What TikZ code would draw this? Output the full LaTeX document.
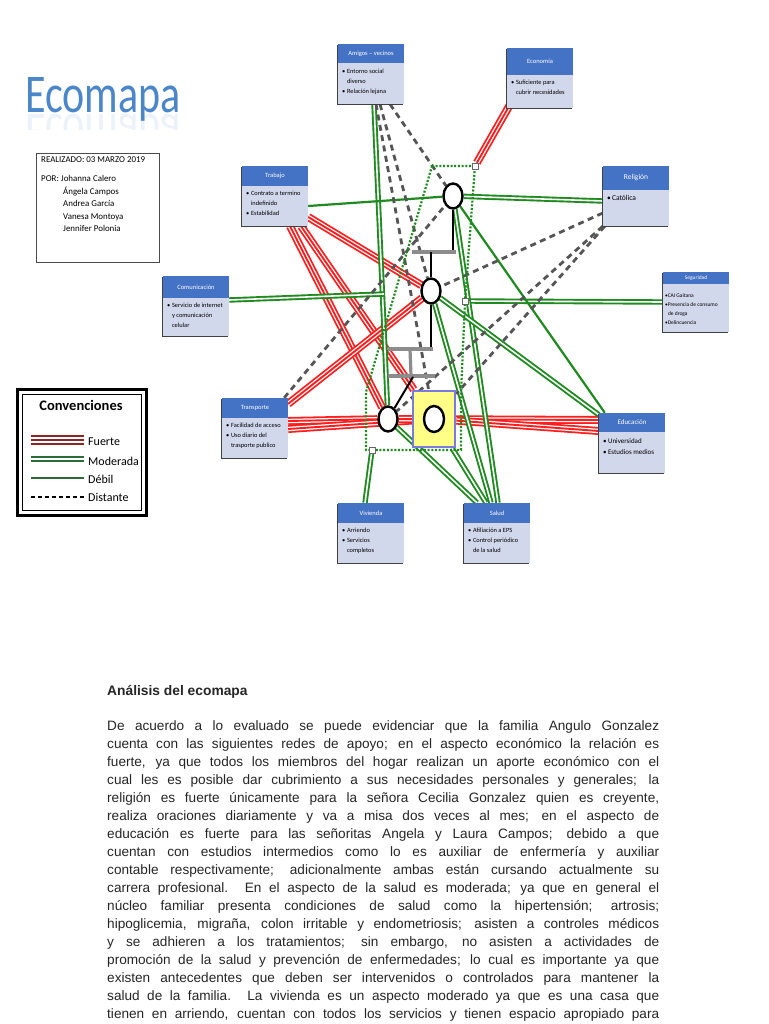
\documentclass[tikz,border=0pt]{standalone}
\usepackage{fontspec}
\setmainfont{Carlito}
\newfontfamily\arialfont{Liberation Sans}
\usetikzlibrary{shapes.geometric,shadows}
\definecolor{boxhead}{HTML}{4472C4}
\definecolor{boxbody}{HTML}{D2D8EC}
\definecolor{tiered}{HTML}{FF1E1E}
\definecolor{tiegreen}{HTML}{1F8A1F}
\definecolor{tiegray}{HTML}{555555}
\definecolor{kingray}{HTML}{8C8C8C}
\definecolor{idxyellow}{HTML}{FFFF88}
\definecolor{idxblue}{HTML}{7B7BDD}
\definecolor{legred}{HTML}{8E2424}
\definecolor{leggreen}{HTML}{2C6B38}
\definecolor{titleblue}{HTML}{4A86C8}
\definecolor{textgray}{HTML}{262626}
\pgfdeclarelayer{bg}
\pgfsetlayers{bg,main}
\newcommand\blt{\makebox[5pt][l]{\textbullet}}
\newcommand\bltc{\hspace*{5pt}}

\begin{document}
\begin{tikzpicture}[x=1pt,y=-1pt,
    ebox/.style={fill=boxbody, minimum width=66pt, minimum height=60pt, inner sep=0pt,
      drop shadow={shadow xshift=-1.3pt, shadow yshift=-1.3pt, fill=black!75, opacity=1}},
    ehead/.style={fill=boxhead, minimum width=66pt, inner sep=0pt, anchor=north,
      text=white, font=\fontsize{6.5}{7}\selectfont},
    ebody/.style={anchor=north west, align=left, inner sep=0pt, font=\fontsize{6.4}{10}\selectfont},
    fam/.style={ellipse, draw, line width=2.4pt, fill=white, minimum width=19pt,
      minimum height=25pt, inner sep=0pt},
    index/.style={draw=idxblue, line width=2.6pt, fill=idxyellow, minimum width=42pt,
      minimum height=56pt, inner sep=0pt},
    sq/.style={draw=black!60, fill=white, line width=0.6pt, minimum size=6pt, inner sep=0pt},
    fuerte/.style={draw=white, line width=4.4pt, preaction={draw=tiered, line width=8pt},
      postaction={draw=tiered, line width=1.9pt}},
    moderada/.style={draw=white, line width=1.6pt, preaction={draw=tiegreen, line width=5.4pt}},
    debil/.style={draw=tiegreen, line width=2.2pt},
    distante/.style={draw=tiegray, line width=2.8pt, dash pattern=on 6pt off 4.5pt},
    kinline/.style={draw=black, line width=2pt},
    kinbar/.style={draw=kingray, line width=3.2pt},
    hogar/.style={draw=tiegreen, line width=2.2pt, dash pattern=on 2pt off 1.7pt},
    legfuerte/.style={draw=white, line width=5.4pt, preaction={draw=legred, line width=10pt},
      postaction={draw=legred, line width=2.2pt}},
    legmod/.style={draw=white, line width=1.5pt, preaction={draw=leggreen, line width=6.5pt}},
    legtext/.style={anchor=west, inner sep=0pt, font=\fontsize{12}{12}\selectfont}]
  \useasboundingbox (0,0) rectangle (768,1024);

  % Title
  \node[anchor=base west, inner sep=0pt, text=titleblue, font=\fontsize{42}{42}\selectfont]
    (title) at (25,113) {\scalebox{1}[1.3]{Ecomapa}};
  \begin{scope}
    \clip (20,115) rectangle (190,130);
    \node[anchor=base west, inner sep=0pt, text=titleblue, opacity=0.1,
      font=\fontsize{42}{42}\selectfont] (titlerefl) at (25,115) {\scalebox{1}[-1.3]{Ecomapa}};
  \end{scope}

  % Authors
  \node[draw=black!70, line width=0.6pt, minimum width=123pt, minimum height=109pt,
    anchor=north west, inner sep=0pt] (info) at (36,153) {};
  \node[anchor=north west, align=left, inner sep=0pt, font=\fontsize{8.9}{12.4}\selectfont]
    (infotxt) at (41,157) {REALIZADO: 03 MARZO 2019\\[6.5pt]
      POR: Johanna Calero\\\hspace*{22pt}Ángela Campos\\\hspace*{22pt}Andrea García\\
      \hspace*{22pt}Vanesa Montoya\\\hspace*{22pt}Jennifer Polonia};

  % Legend
  \node[draw, line width=3pt, minimum width=129pt, minimum height=126pt, anchor=north west,
    inner sep=0pt] (legend) at (16,388) {};
  \node[draw, line width=0.8pt, minimum width=119pt, minimum height=116pt, inner sep=0pt]
    (legendin) at (legend.center) {};
  \node[font=\bfseries\fontsize{14.5}{15}\selectfont, inner sep=0pt] (legendH) at (81,405) {Convenciones};
  \draw[legfuerte] (31,440) -- (84,440);
  \draw[legmod] (31,459) -- (84,459);
  \draw[draw=leggreen, line width=2.5pt] (31,478) -- (84,478);
  \draw[draw=black, line width=2pt, dash pattern=on 4pt off 3pt] (31,497) -- (84,497);
  \node[legtext] (legF) at (88,442) {Fuerte};
  \node[legtext] (legM) at (88,461) {Moderada};
  \node[legtext] (legD) at (88,479) {Débil};
  \node[legtext] (legX) at (88,497) {Distante};

  % Systems
  \node[ebox] (amigos) at (371,74) {};
  \node[ehead, minimum height=19pt] (amigosH) at (amigos.north) {Amigos – vecinos};
  \node[ebody] (amigosT) at ([xshift=4pt,yshift=-6pt]amigosH.south west)
    {\blt Entorno social\\\bltc diverso\\\blt Relación lejana};

  \node[ebox] (econ) at (540,78) {};
  \node[ehead, minimum height=27pt] (econH) at (econ.north) {Economía};
  \node[ebody] (econT) at ([xshift=4pt,yshift=-5pt]econH.south west)
    {\blt Suficiente para\\\bltc cubrir necesidades};

  \node[ebox] (trabajo) at (275,196) {};
  \node[ehead, minimum height=20pt] (trabajoH) at (trabajo.north) {Trabajo};
  \node[ebody] (trabajoT) at ([xshift=4pt,yshift=-5pt]trabajoH.south west)
    {\blt Contrato a termino\\\bltc indefinido\\\blt Estabilidad};

  \node[ebox] (religion) at (636,196) {};
  \node[ehead, minimum height=24pt, font=\fontsize{7.5}{8}\selectfont] (religionH)
    at (religion.north) {Religión};
  \node[ebody, font=\fontsize{7.5}{10}\selectfont] (religionT)
    at ([xshift=4pt,yshift=-5pt]religionH.south west) {\blt Católica};

  \node[ebox] (comun) at (196,306) {};
  \node[ehead, minimum height=22pt] (comunH) at (comun.north) {Comunicación};
  \node[ebody] (comunT) at ([xshift=4pt,yshift=-5pt]comunH.south west)
    {\blt Servicio de internet\\\bltc y comunicación\\\bltc celular};

  \node[ebox] (segur) at (696,302) {};
  \node[ehead, minimum height=12pt, font=\fontsize{5.5}{6}\selectfont] (segurH)
    at (segur.north) {Seguridad};
  \node[ebody, font=\fontsize{5.5}{9}\selectfont] (segurT)
    at ([xshift=2pt,yshift=-9pt]segurH.south west)
    {•CAI Gaitana\\•Presencia de consumo\\\hspace*{3pt}de droga\\•Delincuencia};

  \node[ebox] (transp) at (255,428) {};
  \node[ehead, minimum height=20pt] (transpH) at (transp.north) {Transporte};
  \node[ebody] (transpT) at ([xshift=4pt,yshift=-5pt]transpH.south west)
    {\blt Facilidad de acceso\\\blt Uso diario del\\\bltc trasporte publico};

  \node[ebox] (educ) at (632,443) {};
  \node[ehead, minimum height=19pt, font=\fontsize{7}{8}\selectfont] (educH)
    at (educ.north) {Educación};
  \node[ebody, font=\fontsize{7}{11.5}\selectfont] (educT)
    at ([xshift=4pt,yshift=-6pt]educH.south west) {\blt Universidad\\\blt Estudios medios};

  \node[ebox] (vivienda) at (371,533) {};
  \node[ehead, minimum height=20pt] (viviendaH) at (vivienda.north) {Vivienda};
  \node[ebody] (viviendaT) at ([xshift=4pt,yshift=-5pt]viviendaH.south west)
    {\blt Arriendo\\\blt Servicios\\\bltc completos};

  \node[ebox] (salud) at (497,533) {};
  \node[ehead, minimum height=20pt] (saludH) at (salud.north) {Salud};
  \node[ebody] (saludT) at ([xshift=4pt,yshift=-5pt]saludH.south west)
    {\blt Afiliación a EPS\\\blt Control periódico\\\bltc de la salud};

  % Family
  \node[fam] (famA) at (453,196) {};
  \node[fam] (famB) at (431,291) {};
  \node[fam] (famC) at (388,419) {};
  \node[index] (index) at (434,419) {};
  \node[fam, minimum width=20pt, minimum height=26pt] (famD) at (434,419) {};

  % Household
  \node[sq] (sqEcon) at (475,166) {};
  \node[sq] (sqSeg) at (465,301) {};
  \node[sq] (sqViv) at (372,450) {};
  \coordinate (comEnd) at (384,294);
  \coordinate (sibA) at (434,252);
  \coordinate (sibB) at (410,349);
  \coordinate (sibC) at (411,376);

  \begin{pgfonlayer}{bg}
    \fill[white] (0,0) rectangle (768,1024);

    % Strong ties
    \draw[fuerte] (sqEcon) -- ([xshift=4pt,yshift=5pt]econ.south west);
    \draw[fuerte] ([yshift=-21pt]trabajo.east) -- (famB);
    \draw[fuerte] ([xshift=15pt]trabajo.south) -- (famC);
    \draw[fuerte] ([xshift=26pt]trabajo.south) -- (index);
    \draw[fuerte] ([yshift=-6pt]transp.north east) -- (famB);
    \draw[fuerte] ([yshift=7pt]transp.east) -- (famC);
    \draw[fuerte] ([yshift=-1pt]transp.east) -- (index);
    \draw[fuerte] ([yshift=23pt]educ.west) -- (famC);
    \draw[fuerte] ([yshift=12pt]educ.west) -- (index);

    % Moderate ties
    \draw[moderada] ([xshift=3pt]amigos.south) -- (famC);
    \draw[moderada] (famA) -- ([yshift=-5pt]religion.west);
    \draw[moderada] ([yshift=6pt]comun.east) -- (comEnd);
    \draw[moderada] (sqSeg) -- (segur.west);
    \draw[moderada] (sqViv) -- ([xshift=-6pt]vivienda.north);
    \draw[moderada] (famA) -- ([xshift=1pt]salud.north);
    \draw[moderada] (famB) -- ([xshift=-6pt]salud.north);
    \draw[moderada] (famC) -- ([xshift=-20pt]salud.north);
    \draw[moderada] (index) -- ([xshift=-11pt]salud.north);
    \draw[moderada] (famB) -- ([yshift=-2pt]educ.north west);

    % Weak ties
    \draw[debil] (famA) -- ([yshift=-10pt]trabajo.east);
    \draw[debil] (famA) -- ([xshift=6pt]educ.north west);

    % Distant ties
    \draw[distante] ([xshift=19pt]amigos.south) -- (famA);
    \draw[distante] ([xshift=9pt]amigos.south) -- (famB);
    \draw[distante] ([xshift=5pt]amigos.south) -- (index);
    \draw[distante] ([xshift=-4pt]transp.north east) -- (famA);
    \draw[distante] ([yshift=-17pt]religion.west) -- (famB);
    \draw[distante] (religion.south west) -- (famC);
    \draw[distante] ([xshift=2pt]religion.south west) -- (index);

    % Genogram
    \draw[kinline] (famA) -- (famA |- sibA);
    \draw[kinbar] ([xshift=-22pt]sibA) -- ([xshift=22pt]sibA);
    \draw[kinline] (famB |- sibA) -- (famB);
    \draw[kinline] (famB) -- (famB |- sibB);
    \draw[kinbar] ([xshift=-22pt]sibB) -- ([xshift=23pt]sibB);
    \draw[kinbar] (sibB) -- (sibC);
    \draw[kinbar] ([xshift=-23pt]sibC) -- ([xshift=24pt]sibC);
    \draw[kinline] ([xshift=2pt,yshift=-1pt]sibC) -- (famC);

    % Household boundary
    \draw[hogar] (432,166) -- (sqEcon.center) -- (sqSeg.center) -- (461,393) -- (461,450)
      -- (sqViv.center) -- (366,450) -- (366,392) -- cycle;
  \end{pgfonlayer}

  % Analysis
  \node[anchor=base west, inner sep=0pt, text=textgray,
    font=\arialfont\bfseries\fontsize{13.8}{16}\selectfont] (analisisH) at (107,695)
    {Análisis del ecomapa};
  \node[anchor=north west, inner sep=0pt, text width=552pt, align=justify, text=textgray,
    font=\arialfont\fontsize{13.6}{18}\selectfont] (analisis) at (107,720)
    {De acuerdo a lo evaluado se puede evidenciar que la familia Angulo Gonzalez\linebreak
    cuenta con las siguientes redes de apoyo; en el aspecto económico la relación es\linebreak
    fuerte, ya que todos los miembros del hogar realizan un aporte económico con el\linebreak
    cual les es posible dar cubrimiento a sus necesidades personales y generales; la\linebreak
    religión es fuerte únicamente para la señora Cecilia Gonzalez quien es creyente,\linebreak
    realiza oraciones diariamente y va a misa dos veces al mes; en el aspecto de\linebreak
    educación es fuerte para las señoritas Angela y Laura Campos; debido a que\linebreak
    cuentan con estudios intermedios como lo es auxiliar de enfermería y auxiliar\linebreak
    contable respectivamente; adicionalmente ambas están cursando actualmente su\linebreak
    carrera profesional. En el aspecto de la salud es moderada; ya que en general el\linebreak
    núcleo familiar presenta condiciones de salud como la hipertensión; artrosis;\linebreak
    hipoglicemia, migraña, colon irritable y endometriosis; asisten a controles médicos\linebreak
    y se adhieren a los tratamientos; sin embargo, no asisten a actividades de\linebreak
    promoción de la salud y prevención de enfermedades; lo cual es importante ya que\linebreak
    existen antecedentes que deben ser intervenidos o controlados para mantener la\linebreak
    salud de la familia. La vivienda es un aspecto moderado ya que es una casa que\linebreak
    \makebox[552pt][s]{tienen en arriendo, cuentan con todos los servicios y tienen espacio apropiado para}};
\end{tikzpicture}
\end{document}
